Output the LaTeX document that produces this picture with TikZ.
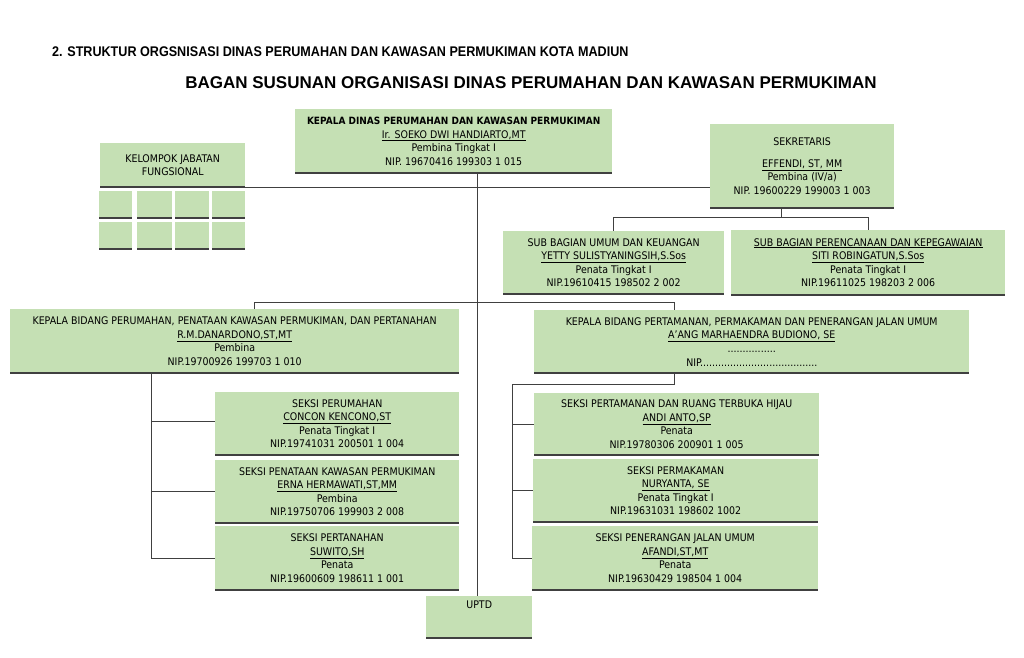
\documentclass[tikz,border=0pt]{standalone}
\usepackage{fontspec}
\setmainfont{DejaVu Sans Condensed}
\newfontfamily\titlefont{Liberation Sans}
\definecolor{boxg}{HTML}{C5E0B4}
\definecolor{linec}{HTML}{404040}
\tikzset{
  box/.style={fill=boxg, inner sep=0pt, align=center, font=\fontsize{10.5}{13.6}\selectfont,
    path picture={\draw[line width=2pt,black!75] (path picture bounding box.south west) -- (path picture bounding box.south east);}},
  conn/.style={draw=linec, line width=0.9pt}
}
\newcommand{\bx}[6]{%
  \pgfmathsetmacro{\bw}{#4-#2}\pgfmathsetmacro{\bh}{#5-#3}%
  \node[box, minimum width=\bw pt, minimum height=\bh pt, anchor=north west] (#1) at (#2,#3) {#6};}
\begin{document}
\begin{tikzpicture}[x=1pt,y=-1pt]
\useasboundingbox (0,0) rectangle (1024,657);
\node[anchor=west, inner sep=0pt, font=\titlefont\bfseries\fontsize{14}{16}\selectfont, xscale=0.9] (t1) at (52,52) {2. STRUKTUR ORGSNISASI DINAS PERUMAHAN DAN KAWASAN PERMUKIMAN KOTA MADIUN};
\node[font=\titlefont\bfseries\fontsize{17}{19}\selectfont] (t2) at (531,83) {BAGAN SUSUNAN ORGANISASI DINAS PERUMAHAN DAN KAWASAN PERMUKIMAN};

\bx{kep}{295}{109}{612}{173}{{\fontsize{10}{13.6}\selectfont\textbf{KEPALA DINAS PERUMAHAN DAN KAWASAN PERMUKIMAN}}\\\underline{Ir. SOEKO DWI HANDIARTO,MT}\\Pembina Tingkat I\\NIP. 19670416 199303 1 015}
\bx{kel}{100}{143}{245}{187}{KELOMPOK JABATAN\\FUNGSIONAL}
\foreach \r/\ya/\yb in {1/191/218,2/222/249}{
  \foreach \c/\xa/\xb in {1/99/132,2/137/172,3/175/209,4/212/245}{
    \bx{g\r\c}{\xa}{\ya}{\xb}{\yb}{}
  }}
\bx{sek}{710}{124}{894}{208}{SEKRETARIS\\[8pt]\underline{EFFENDI, ST, MM}\\Pembina (IV/a)\\NIP. 19600229 199003 1 003}
\bx{sbu}{503}{231}{724}{294}{SUB BAGIAN UMUM DAN KEUANGAN\\\underline{YETTY SULISTYANINGSIH,S.Sos}\\Penata Tingkat I\\NIP.19610415 198502 2 002}
\bx{sbp}{731}{230}{1005}{295}{\underline{SUB BAGIAN PERENCANAAN DAN KEPEGAWAIAN}\\\underline{SITI ROBINGATUN,S.Sos}\\Penata Tingkat I\\NIP.19611025 198203 2 006}
\bx{kb1}{10}{309}{459}{373}{KEPALA BIDANG PERUMAHAN, PENATAAN KAWASAN PERMUKIMAN, DAN PERTANAHAN\\\underline{R.M.DANARDONO,ST,MT}\\Pembina\\NIP.19700926 199703 1 010}
\bx{kb2}{534}{310}{969}{373}{KEPALA BIDANG PERTAMANAN, PERMAKAMAN DAN PENERANGAN JALAN UMUM\\\underline{A'ANG MARHAENDRA BUDIONO, SE}\\................\\NIP.......................................}
\bx{s1}{215}{392}{459}{455}{SEKSI PERUMAHAN\\\underline{CONCON KENCONO,ST}\\Penata Tingkat I\\NIP.19741031 200501 1 004}
\bx{s2}{215}{460}{459}{523}{SEKSI PENATAAN KAWASAN PERMUKIMAN\\\underline{ERNA HERMAWATI,ST,MM}\\Pembina\\NIP.19750706 199903 2 008}
\bx{s3}{215}{526}{459}{590}{SEKSI PERTANAHAN\\\underline{SUWITO,SH}\\Penata\\NIP.19600609 198611 1 001}
\bx{r1}{534}{393}{819}{455}{SEKSI PERTAMANAN DAN RUANG TERBUKA HIJAU\\\underline{ANDI ANTO,SP}\\Penata\\NIP.19780306 200901 1 005}
\bx{r2}{533}{459}{818}{522}{SEKSI PERMAKAMAN\\\underline{NURYANTA, SE}\\Penata Tingkat I\\NIP.19631031 198602 1002}
\bx{r3}{532}{526}{818}{590}{SEKSI PENERANGAN JALAN UMUM\\\underline{AFANDI,ST,MT}\\Penata\\NIP.19630429 198504 1 004}
\bx{uptd}{426}{596}{532}{638}{UPTD\\[12pt]}

\coordinate (spine) at (477,0);
\coordinate (sekx) at (781,217);
\coordinate (midy) at (0,302);
\coordinate (k1x) at (254,0);
\coordinate (k2x) at (674,0);
\coordinate (l1x) at (151,0);
\coordinate (l2x) at (512,384);

\draw[conn] (kel.south east) -- (kel.south east -| sek.west);
\draw[conn] (spine |- kep.south) -- (spine |- uptd.north);
\draw[conn] (sekx |- sek.south) -- (sekx);
\draw[conn] (sekx -| sbu.north) -- (sekx -| sbp.north);
\draw[conn] (sekx -| sbu.north) -- (sbu.north);
\draw[conn] (sekx -| sbp.north) -- (sbp.north);
\draw[conn] (k1x |- kb1.north) |- (k2x |- midy) -- (k2x |- kb2.north);
\draw[conn] (l1x |- kb1.south) -- (l1x |- s3.west) -- (s3.west);
\draw[conn] (l1x |- 0,421) -- (s1.west |- 0,421);
\draw[conn] (l1x |- s2.west) -- (s2.west);
\draw[conn] (k2x |- kb2.south) -- (k2x |- l2x) -- (l2x) -- (l2x |- r3.west) -- (r3.west);
\draw[conn] (l2x |- 0,424) -- (r1.west |- 0,424);
\draw[conn] (l2x |- r2.west) -- (r2.west);
\end{tikzpicture}
\end{document}
